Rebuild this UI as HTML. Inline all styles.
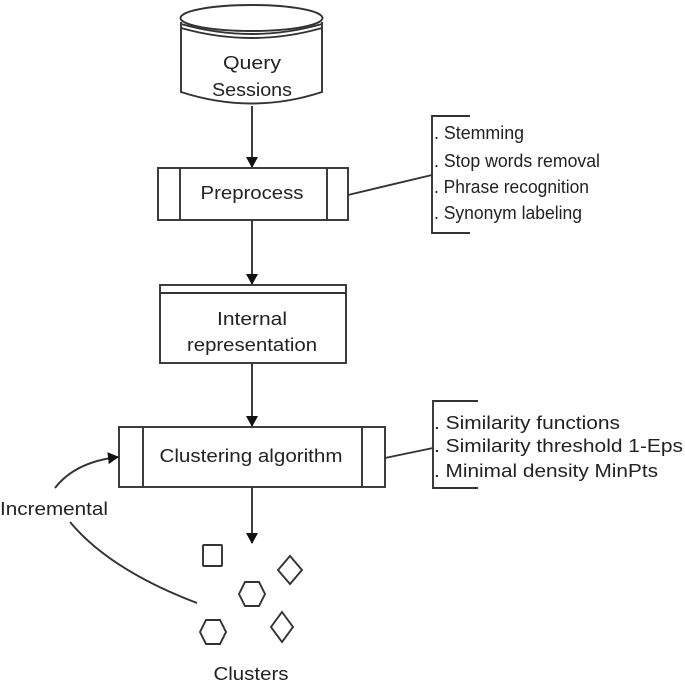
<!DOCTYPE html>
<html><head><style>body{margin:0;background:#fff}</style></head><body>
<svg width="685" height="685" viewBox="0 0 685 685" xmlns="http://www.w3.org/2000/svg" font-family="Liberation Sans, sans-serif" font-size="18" fill="none" stroke="#333" stroke-width="1.9">
<defs><marker id="a" markerWidth="11" markerHeight="12" refX="10" refY="6" orient="auto" markerUnits="userSpaceOnUse"><path d="M0,0 L11,6 L0,12 z" fill="#111" stroke="none"/></marker></defs>
<!-- cylinder -->
<path d="M181,22 L181,92 Q252,115 322,92 L322,22"/>
<ellipse cx="251.5" cy="18" rx="71" ry="13"/>
<path d="M181,24 Q252,44 322,24"/>
<path d="M181,28 Q252,48 322,28"/>
<g fill="#222" stroke="none" text-anchor="middle">
<text x="252" y="69" textLength="58" lengthAdjust="spacingAndGlyphs">Query</text><text x="252" y="96" textLength="80" lengthAdjust="spacingAndGlyphs">Sessions</text>
</g>
<line x1="252" y1="106" x2="252" y2="167" marker-end="url(#a)"/>
<!-- preprocess -->
<rect x="158" y="168" width="190" height="52"/>
<line x1="180" y1="168" x2="180" y2="220"/><line x1="327" y1="168" x2="327" y2="220"/>
<text x="252" y="199" fill="#222" stroke="none" text-anchor="middle" textLength="103" lengthAdjust="spacingAndGlyphs">Preprocess</text>
<line x1="252" y1="220" x2="252" y2="284" marker-end="url(#a)"/>
<!-- internal -->
<rect x="160" y="285" width="186" height="78"/>
<line x1="160" y1="293" x2="346" y2="293"/>
<g fill="#222" stroke="none" text-anchor="middle"><text x="252" y="325" textLength="70" lengthAdjust="spacingAndGlyphs">Internal</text><text x="252" y="351" textLength="130" lengthAdjust="spacingAndGlyphs">representation</text></g>
<line x1="252" y1="363" x2="252" y2="426" marker-end="url(#a)"/>
<!-- bracket 1 -->
<path d="M470,116 L432,116 L432,233 L470,233"/>
<line x1="348" y1="195" x2="432" y2="175"/>
<g fill="#222" stroke="none"><text x="434" y="139" textLength="90" lengthAdjust="spacingAndGlyphs">. Stemming</text><text x="434" y="167" textLength="166" lengthAdjust="spacingAndGlyphs">. Stop words removal</text><text x="434" y="193" textLength="155" lengthAdjust="spacingAndGlyphs">. Phrase recognition</text><text x="434" y="219" textLength="148" lengthAdjust="spacingAndGlyphs">. Synonym labeling</text></g>
<!-- clustering -->
<rect x="119" y="427" width="266" height="60"/>
<line x1="143" y1="427" x2="143" y2="487"/><line x1="362" y1="427" x2="362" y2="487"/>
<text x="251" y="462" fill="#222" stroke="none" text-anchor="middle" textLength="183" lengthAdjust="spacingAndGlyphs">Clustering algorithm</text>
<path d="M478,401 L433,401 L433,488 L478,488"/>
<line x1="385" y1="458" x2="433" y2="448"/>
<g fill="#222" stroke="none"><text x="434" y="429" textLength="186" lengthAdjust="spacingAndGlyphs">. Similarity functions</text><text x="434" y="452" textLength="249" lengthAdjust="spacingAndGlyphs">. Similarity threshold 1-Eps</text><text x="434" y="477" textLength="224" lengthAdjust="spacingAndGlyphs">. Minimal density MinPts</text></g>
<line x1="252" y1="487" x2="252" y2="543" marker-end="url(#a)"/>
<!-- incremental -->
<text x="0" y="515" fill="#222" stroke="none" textLength="108" lengthAdjust="spacingAndGlyphs">Incremental</text>
<path d="M55,488 Q75,462 118,457" marker-end="url(#a)"/>
<path d="M70,522 Q110,570 197,603"/>
<!-- shapes -->
<rect x="203" y="545" width="19" height="21" rx="1"/>
<path d="M290,556 L302,570 L290,584 L278,570 Z"/>
<path d="M245,582 L259,582 L265,594 L259,606 L245,606 L239,594 Z"/>
<path d="M206,620 L220,620 L226,632 L220,644 L206,644 L200,632 Z"/>
<path d="M282,612 L293,627 L282,642 L271,627 Z"/>
<text x="251" y="680" fill="#222" stroke="none" text-anchor="middle" textLength="75" lengthAdjust="spacingAndGlyphs">Clusters</text>
</svg>
</body></html>
